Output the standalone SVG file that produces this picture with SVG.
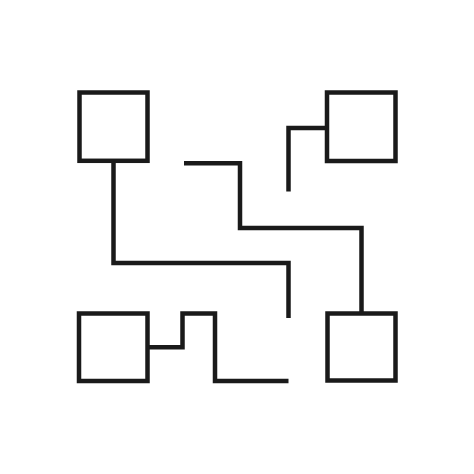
<svg xmlns="http://www.w3.org/2000/svg" width="474" height="474" viewBox="0 0 474 474">
<style>
.n{fill:none;stroke:#1a1a1a;stroke-width:4.5;stroke-linejoin:miter}
.c{fill:none;stroke:#1a1a1a;stroke-width:4.5;stroke-linejoin:miter;stroke-linecap:butt}
</style>
<rect width="474" height="474" fill="#ffffff"/>
<g id="connectors">
<polyline class="c" points="113.5,160.8 113.5,263 288.5,263 288.5,318"/>
<polyline class="c" points="184,163.2 240,163.2 240,228 361.5,228 361.5,313.5"/>
<polyline class="c" points="288.5,191.5 288.5,128 327,128"/>
<polyline class="c" points="147.5,347.3 182.5,347.3 182.5,313.5 215,313.5 215,381 288.5,381"/>
</g>
<g id="node-tl"><rect class="n" x="79.5" y="92.5" width="68" height="68.3"/></g>
<g id="node-tr"><rect class="n" x="327" y="92.5" width="68.5" height="68.5"/></g>
<g id="node-bl"><rect class="n" x="79" y="313.5" width="68.5" height="67.5"/></g>
<g id="node-br"><rect class="n" x="327.5" y="313.5" width="68" height="67"/></g>
</svg>
